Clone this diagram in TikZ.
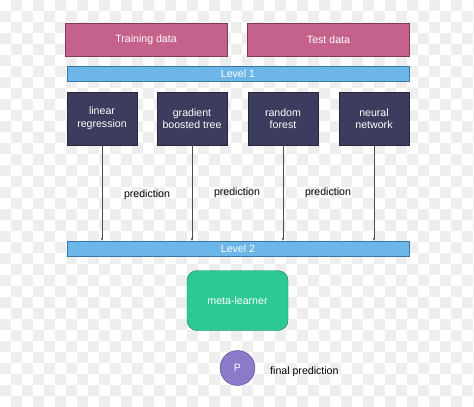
\documentclass[tikz,border=0pt]{standalone}
\usepackage{fontspec}
\usetikzlibrary{arrows.meta}
\setmainfont{Liberation Sans}
\definecolor{pinkc}{HTML}{C5628C}
\definecolor{pinkb}{HTML}{7E3A58}
\definecolor{navyc}{HTML}{3C3C5E}
\definecolor{navyb}{HTML}{26263A}
\definecolor{bluec}{HTML}{6CB6E8}
\definecolor{blueb}{HTML}{3A78A0}
\definecolor{greenc}{HTML}{2CC994}
\definecolor{greenb}{HTML}{1D7A5A}
\definecolor{purplec}{HTML}{8A7AC8}
\definecolor{purpleb}{HTML}{54478A}
\definecolor{checkc}{HTML}{EEEEEE}
\begin{document}
\begin{tikzpicture}[x=1pt,y=-1pt,
  every node/.style={font=\fontsize{10.6}{12.5}\selectfont},
  databox/.style={draw=pinkb,fill=pinkc,text=white,minimum width=162pt,minimum height=33pt,inner sep=0pt},
  levelbar/.style={draw=blueb,fill=bluec,text=white,minimum width=342pt,minimum height=15pt,inner sep=0pt},
  modelbox/.style={draw=navyb,fill=navyc,text=white,minimum width=70pt,minimum height=53pt,inner sep=0pt,align=center},
  metabox/.style={draw=greenb,fill=greenc,text=white,rounded corners=10pt,minimum width=101pt,minimum height=60pt,inner sep=0pt},
  pcircle/.style={circle,draw=purpleb,fill=purplec,text=white,minimum size=35pt,inner sep=0pt},
  plabel/.style={text=black,inner sep=1pt},
  arr/.style={draw=black!70,line width=0.5pt,-{Stealth[length=3pt,width=2.5pt]}}
]
\useasboundingbox (0,0) rectangle (474,407);
\fill[white] (0,0) rectangle (474,407);
\foreach \i in {0,...,43}{
  \foreach \j in {0,...,37}{
    \pgfmathtruncatemacro{\chk}{mod(\i+\j,2)}
    \ifnum\chk=1
      \fill[checkc] (\i*11,\j*11) rectangle ++(11,11);
    \fi
  }
}
\node[databox] (train) at (146,39.5) {Training data};
\node[databox] (test) at (328.5,39.5) {Test data};
\node[levelbar] (l1) at (238,74) {Level 1};
\node[modelbox] (m1) at (102,118.5) {linear\\regression};
\node[modelbox] (m2) at (192,118.5) {gradient\\boosted tree};
\node[modelbox] (m3) at (283,118.5) {random\\forest};
\node[modelbox] (m4) at (374,118.5) {neural\\network};
\node[levelbar] (l2) at (238,248.5) {Level 2};
\node[metabox] (meta) at (237.5,300.5) {meta-learner};
\node[pcircle] (p) at (237.5,368) {P};
\node[plabel,anchor=west] (fp) at (269,372) {final prediction};
\node[plabel] (pr1) at (147,195) {prediction};
\node[plabel] (pr2) at (237,193) {prediction};
\node[plabel] (pr3) at (328,193) {prediction};
\foreach \k in {1,2,3,4}{
  \coordinate (e\k) at (m\k.south |- l2.north);
  \draw[arr] (m\k.south) -- (e\k);
}
\end{tikzpicture}
\end{document}
